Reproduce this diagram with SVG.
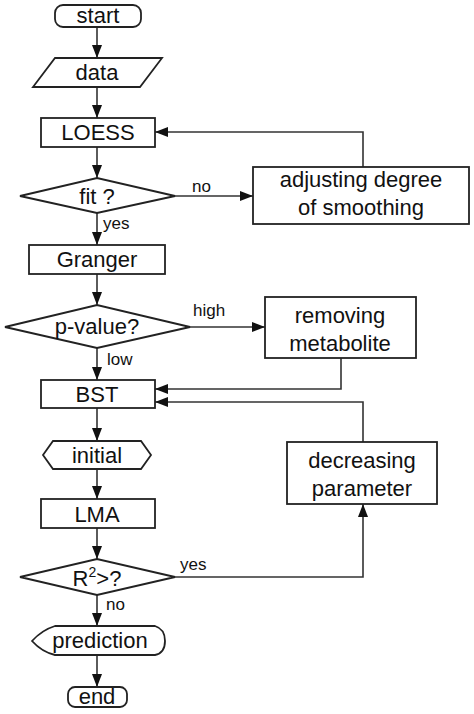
<svg xmlns="http://www.w3.org/2000/svg" width="474" height="714" viewBox="0 0 474 714">
<style>
.s{fill:#fff;stroke:#222;stroke-width:1.8}
.t{font-family:"Liberation Sans",Arial,sans-serif;font-size:22px;fill:#111;text-anchor:middle}
.l{font-family:"Liberation Sans",Arial,sans-serif;font-size:17px;fill:#111}
.c{fill:none;stroke:#333;stroke-width:1.6}
</style>
<defs>
<marker id="a" markerUnits="userSpaceOnUse" markerWidth="14" markerHeight="12" viewBox="0 0 14 12" refX="13" refY="6" orient="auto">
<path d="M0,1 L13,6 L0,11 Z" fill="#111"/>
</marker>
</defs>
<rect width="474" height="714" fill="#fff"/>
<g id="connectors">
<line class="c" x1="97" y1="27" x2="97" y2="58" marker-end="url(#a)"/>
<line class="c" x1="97" y1="87" x2="97" y2="118" marker-end="url(#a)"/>
<line class="c" x1="97" y1="147" x2="97" y2="178" marker-end="url(#a)"/>
<line class="c" x1="97" y1="213" x2="97" y2="245" marker-end="url(#a)"/>
<line class="c" x1="97" y1="274" x2="97" y2="305" marker-end="url(#a)"/>
<line class="c" x1="97" y1="348" x2="97" y2="380" marker-end="url(#a)"/>
<line class="c" x1="97" y1="408" x2="97" y2="441" marker-end="url(#a)"/>
<line class="c" x1="97" y1="469" x2="97" y2="499" marker-end="url(#a)"/>
<line class="c" x1="97" y1="528" x2="97" y2="559" marker-end="url(#a)"/>
<line class="c" x1="97" y1="595" x2="97" y2="626" marker-end="url(#a)"/>
<line class="c" x1="97" y1="655" x2="97" y2="687" marker-end="url(#a)"/>
<line class="c" x1="175" y1="196" x2="253" y2="196" marker-end="url(#a)"/>
<polyline class="c" points="363,167 363,132 155,132" marker-end="url(#a)"/>
<line class="c" x1="190" y1="327" x2="265" y2="327" marker-end="url(#a)"/>
<polyline class="c" points="341,358 341,389 155,389" marker-end="url(#a)"/>
<polyline class="c" points="363,442 363,402 155,402" marker-end="url(#a)"/>
<polyline class="c" points="175,577 363,577 363,504" marker-end="url(#a)"/>
<text class="l" x="192" y="192">no</text>
<text class="l" x="103" y="229">yes</text>
<text class="l" x="193" y="316">high</text>
<text class="l" x="107" y="365">low</text>
<text class="l" x="180" y="570">yes</text>
<text class="l" x="106" y="610">no</text>
</g>
<g id="start"><rect class="s" x="55" y="5" width="86" height="22" rx="8"/><text class="t" x="98" y="23">start</text></g>
<g id="data"><polygon class="s" points="55,58 162,58 140,87 33,87"/><text class="t" x="97" y="80">data</text></g>
<g id="loess"><rect class="s" x="41" y="118" width="114" height="29"/><text class="t" x="98" y="140">LOESS</text></g>
<g id="fit"><polygon class="s" points="20,196 97,178 175,196 97,213"/><text class="t" x="97" y="204">fit ?</text></g>
<g id="adjusting"><rect class="s" x="253" y="167" width="216" height="57"/><text class="t" x="361" y="187">adjusting degree</text><text class="t" x="361" y="215">of smoothing</text></g>
<g id="granger"><rect class="s" x="29" y="245" width="136" height="29"/><text class="t" x="97" y="267">Granger</text></g>
<g id="pvalue"><polygon class="s" points="5,327 97,305 190,327 97,348"/><text class="t" x="97" y="334">p-value?</text></g>
<g id="removing"><rect class="s" x="265" y="297" width="151" height="61"/><text class="t" x="340" y="323">removing</text><text class="t" x="340" y="351">metabolite</text></g>
<g id="bst"><rect class="s" x="41" y="380" width="114" height="28"/><text class="t" x="97" y="402">BST</text></g>
<g id="initial"><polygon class="s" points="43,455 53,441 141,441 151,455 141,469 53,469"/><text class="t" x="97" y="463">initial</text></g>
<g id="decreasing"><rect class="s" x="287" y="442" width="150" height="62"/><text class="t" x="362" y="468">decreasing</text><text class="t" x="362" y="496">parameter</text></g>
<g id="lma"><rect class="s" x="41" y="499" width="114" height="29"/><text class="t" x="97" y="522">LMA</text></g>
<g id="r2"><polygon class="s" points="20,577 97,559 175,577 97,595"/><text class="t" x="97" y="586">R<tspan font-size="14" dy="-9">2</tspan><tspan dy="9">&gt;?</tspan></text></g>
<g id="prediction"><path class="s" d="M32,641 Q42,630 55,626 L155,626 Q165,629 165,641 Q165,653 155,655 L55,655 Q42,652 32,641 Z"/><text class="t" x="100" y="648">prediction</text></g>
<g id="end"><rect class="s" x="68" y="687" width="59" height="20" rx="7"/><text class="t" x="97" y="704">end</text></g>
</svg>
